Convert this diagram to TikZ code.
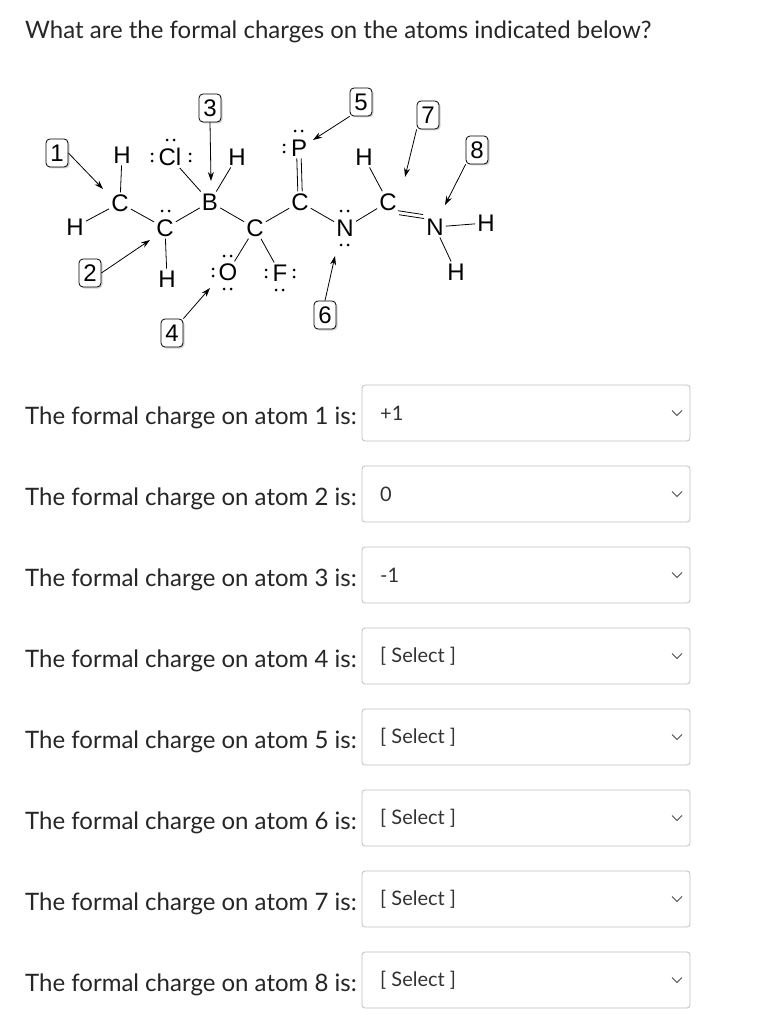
\documentclass[tikz,border=0pt]{standalone}
\usepackage{fontspec}
\setmainfont{Lato}
\newfontfamily\molfont{Liberation Sans}
\usetikzlibrary{shadows,arrows.meta}
\begin{document}
\begin{tikzpicture}[x=1pt,y=-1pt,
  atom/.style={font=\fontsize{24}{24}\molfont, inner sep=2pt, text=black},
  lbl/.style={draw=black, line width=0.8pt, rounded corners=4pt, fill=white, minimum width=22pt, minimum height=28pt, inner sep=0pt, font=\fontsize{24}{24}\molfont, drop shadow={shadow xshift=1.5pt, shadow yshift=-1.5pt, opacity=0.35}},
  bond/.style={line width=0.8pt, black},
  arr/.style={line width=0.8pt, -{Stealth[length=9pt,width=6pt]}},
  qtext/.style={font=\fontsize{24}{24}\selectfont, text=black!85, anchor=west, inner sep=0pt},
  selbox/.style={draw=black!25, line width=0.8pt, rounded corners=3pt, fill=white},
  seltext/.style={font=\fontsize{20}{20}\selectfont, text=black!80, anchor=west, inner sep=0pt},
  chev/.style={line width=0.8pt, black!70}]
\useasboundingbox (0,0) rectangle (780,1024);
\fill[white] (0,0) rectangle (780,1024);
\node[qtext] (title) at (25,32) {What are the formal charges on the atoms indicated below?};

% atoms
\node[atom] (H1) at (122,155) {H};
\node[atom] (C1) at (120,203) {C};
\node[atom] (H2) at (75,227) {H};
\node[atom] (C2) at (165,228) {C};
\node[atom] (H3) at (167,279) {H};
\node[atom] (Cl) at (170,157) {Cl};
\node[atom] (B) at (210,202) {B};
\node[atom] (H4) at (237,157) {H};
\node[atom] (C3) at (255,228) {C};
\node[atom] (O) at (228,272) {O};
\node[atom] (F) at (280,273) {F};
\node[atom] (C4) at (300,202) {C};
\node[atom] (P) at (299,148) {P};
\node[atom] (N1) at (345,228) {N};
\node[atom] (C5) at (388,202) {C};
\node[atom] (H5) at (364,157) {H};
\node[atom] (N2) at (435,227) {N};
\node[atom] (H6) at (486,223) {H};
\node[atom] (H7) at (456,272) {H};

% bonds
\draw[bond] (H1) -- (C1);
\draw[bond] (H2) -- (C1);
\draw[bond] (C1) -- (C2);
\draw[bond] (C2) -- (H3);
\draw[bond] (C2) -- (B);
\draw[bond] (Cl) -- (B);
\draw[bond] (H4) -- (B);
\draw[bond] (B) -- (C3);
\draw[bond] (C3) -- (O);
\draw[bond] (C3) -- (F);
\draw[bond] (C3) -- (C4);
\draw[bond] ([xshift=-2.2pt]P.south) -- ([xshift=-2.2pt]C4.north);
\draw[bond] ([xshift=2.2pt]P.south) -- ([xshift=2.2pt]C4.north);
\draw[bond] (C4) -- (N1);
\draw[bond] (N1) -- (C5);
\draw[bond] (H5) -- (C5);
\draw[bond] ([yshift=-2pt]C5.south east) -- ([yshift=-2pt]N2.north west);
\draw[bond] ([xshift=-1pt,yshift=2pt]C5.south east) -- ([xshift=-1pt,yshift=2pt]N2.north west);
\draw[bond] (N2) -- (H6);
\draw[bond] (N2) -- (H7);

% lone pairs
\foreach \x/\y in {
  167/140, 174/140,
  162/211, 169/211,
  224/256, 231/256, 224/289, 231/289,
  276/290, 283/290,
  295/131, 302/131,
  341/211, 348/211, 341/245, 348/245}
  \fill (\x,\y) circle (1.5pt);
\foreach \x/\y in {
  152/154, 152/161, 190/154, 190/161,
  213/269, 213/276,
  266/270, 266/277, 294/270, 294/277,
  284/145, 284/152}
  \fill (\x,\y) circle (1.5pt);

% labels
\node[lbl] (L1) at (57,153) {1};
\node[lbl] (L2) at (90,273) {2};
\node[lbl] (L3) at (210,108) {3};
\node[lbl] (L4) at (172,333) {4};
\node[lbl] (L5) at (361,102) {5};
\node[lbl] (L6) at (325,315) {6};
\node[lbl] (L7) at (428,115) {7};
\node[lbl] (L8) at (477,150) {8};
\coordinate (A1) at (103,189);
\coordinate (A2) at (150,240);
\coordinate (A3) at (211,181);
\coordinate (A4) at (210,288);
\coordinate (A5) at (313,140);
\coordinate (A6) at (335,256);
\coordinate (A7) at (405,177);
\coordinate (A8) at (445,205);
\draw[arr] (L1.east) -- (A1);
\draw[arr] (L2.east) -- (A2);
\draw[arr] (L3.south) -- (A3);
\draw[arr] (L4.north east) -- (A4);
\draw[arr] (L5.south west) -- (A5);
\draw[arr] (L6.north) -- (A6);
\draw[arr] (L7.south west) -- (A7);
\draw[arr] (L8.south west) -- (A8);

% questions
\foreach \i/\v in {1/+1, 2/0, 3/-1, 4/{[ Select ]}, 5/{[ Select ]}, 6/{[ Select ]}, 7/{[ Select ]}, 8/{[ Select ]}} {
  \pgfmathsetmacro{\yc}{413+81*(\i-1)}
  \node[qtext] (q\i) at (25,\yc+5) {The formal charge on atom \i\ is:};
  \draw[selbox] (362,\yc-28) rectangle (690,\yc+28);
  \node[seltext] (s\i) at (380,\yc) {\v};
  \draw[chev] (672,\yc-2.5) -- (677,\yc+2.5) -- (682,\yc-2.5);
}
\end{tikzpicture}
\end{document}
